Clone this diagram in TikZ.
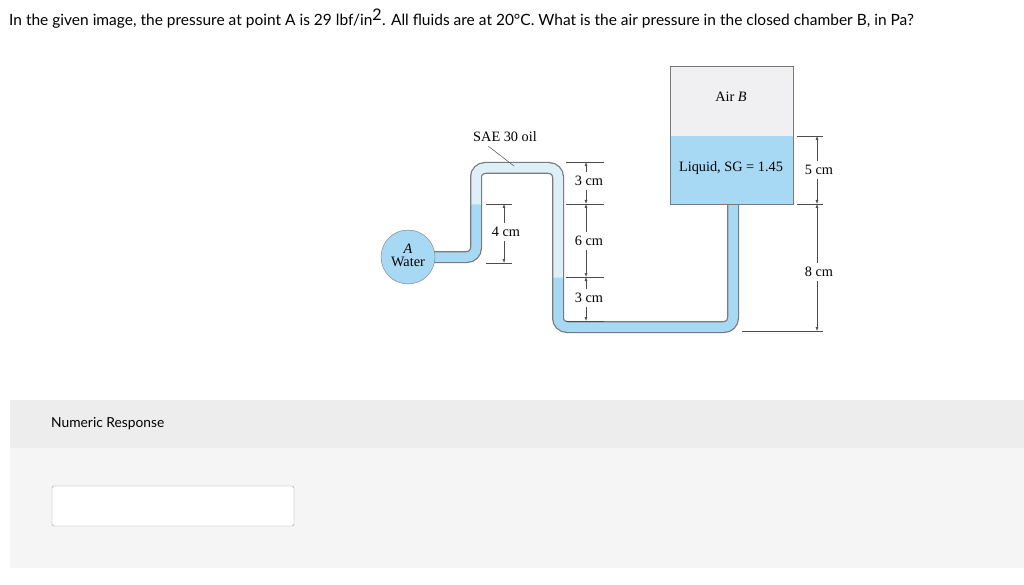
\documentclass[tikz,border=0pt]{standalone}
\usepackage{fontspec}
\setmainfont{Lato}
\newfontfamily\tms{Liberation Serif}
\usetikzlibrary{arrows.meta}
\definecolor{wblue}{HTML}{A8D9F4}
\definecolor{oilc}{HTML}{DDF0FA}
\definecolor{airc}{HTML}{F0F0F2}
\definecolor{edge}{HTML}{7A7A7A}
\tikzset{x=1pt,y=-1pt,
 lbl/.style={font=\tms\fontsize{14.3}{14}\selectfont,inner sep=1pt},
 dim/.style={draw=black!70,line width=0.5pt},
 dimarr/.style={draw=black!70,line width=0.5pt,-{Latex[length=4pt,width=3pt]}},
 tubeout/.style={draw=edge,line width=12pt,rounded corners=9pt},
 tubein/.style={line width=9.5pt,rounded corners=9pt}}
\begin{document}
\begin{tikzpicture}
\useasboundingbox (0,0) rectangle (1024,585);
\fill[white] (0,0) rectangle (1024,585);
\node[anchor=west,font=\fontsize{15.5}{17}\selectfont,inner sep=0] (q) at (9,19) {In the given image, the pressure at point A is 29 lbf/in\textsuperscript{\fontsize{16}{16}\selectfont 2}. All fluids are at 20°C. What is the air pressure in the closed chamber B, in Pa?};
\fill[black!7] (10,400) rectangle (1024,448);
\fill[black!4] (10,448) rectangle (1024,568);
\node[anchor=west,font=\fontsize{13.8}{15}\selectfont,inner sep=0] (nr) at (51,424) {Numeric Response};
\draw[black!40,fill=white,rounded corners=2pt] (52,486) rectangle (294,526);
% tube
\coordinate (t0) at (430,257);
\coordinate (t1) at (476,257);
\coordinate (t2) at (476,168);
\coordinate (t3) at (558,168);
\coordinate (t4) at (558,327);
\coordinate (t5) at (733,327);
\coordinate (t6) at (733,200);
\draw[tubeout] (t0)--(t1)--(t2)--(t3)--(t4)--(t5)--(t6);
\draw[tubein,wblue] (t0)--(t1)--(476,204);
\draw[tubein,oilc] (476,204.5)--(t2)--(t3)--(558,278);
\draw[tubein,wblue] (558,277.5)--(t4)--(t5)--(t6);
% circle
\node[circle,draw=edge,fill=wblue,minimum size=54pt,inner sep=0] (A) at (408,257) {};
\node[lbl] (Al) at (408,249) {\itshape A};
\node[lbl] (Aw) at (408,262) {Water};
% tank
\fill[airc] (670,66) rectangle (793,136);
\fill[wblue] (670,136) rectangle (793,204);
\draw[edge,line width=0.8pt] (670,66) rectangle (793,204);
\node[lbl] (air) at (731,97) {Air \itshape B};
\node[lbl] (liq) at (731,168) {Liquid, SG = 1.45};
% oil label
\node[lbl] (sae) at (505,137) {SAE 30 oil};
\draw[black!70,line width=0.5pt] (488,146)--(514,166);
% dims right
\draw[dim] (797,136)--(823,136) (797,204)--(823,204) (742,331)--(823,331);
\node[lbl,fill=white] (d5) at (819,170) {5 cm};
\node[lbl,fill=white] (d8) at (819,272) {8 cm};
\draw[dimarr] (817,161)--(817,136);
\draw[dimarr] (817,179)--(817,204);
\draw[dimarr] (817,263)--(817,204);
\draw[dimarr] (817,281)--(817,331);
% dims middle
\draw[dim] (566,162)--(604,162) (566,204)--(604,204) (566,277)--(604,277) (566,321)--(604,321);
\node[lbl] (m1) at (589,181) {3 cm};
\node[lbl] (m2) at (589,241) {6 cm};
\node[lbl] (m3) at (589,298) {3 cm};
\draw[dimarr] (586,172)--(586,162);
\draw[dimarr] (586,190)--(586,204);
\draw[dimarr] (586,232)--(586,204);
\draw[dimarr] (586,250)--(586,277);
\draw[dimarr] (586,289)--(586,277);
\draw[dimarr] (586,307)--(586,321);
% 4 cm
\draw[dim] (486,204)--(512,204) (486,263)--(512,263);
\node[lbl] (f4) at (506,232) {4 cm};
\draw[dimarr] (504,223)--(504,204);
\draw[dimarr] (504,241)--(504,263);
\end{tikzpicture}
\end{document}
